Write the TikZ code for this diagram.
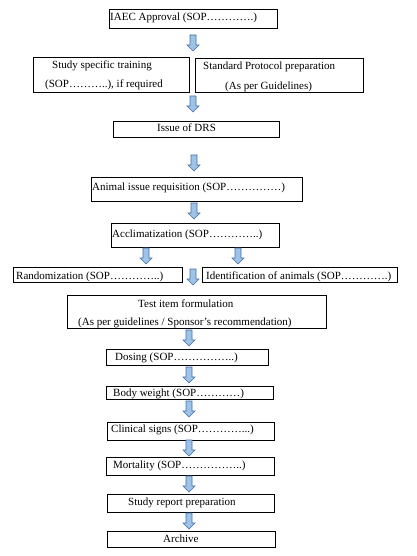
\documentclass[tikz,border=0pt]{standalone}
\usepackage{fontspec}
\setmainfont{Liberation Serif}
\usetikzlibrary{positioning}
\definecolor{arrowfill}{RGB}{157,195,230}
\definecolor{arrowline}{RGB}{70,110,165}

\begin{document}
\begin{tikzpicture}[x=1pt,y=-1pt,
    font=\fontsize{11}{13}\selectfont,
    box/.style={draw,line width=0.7pt,inner sep=0,anchor=north west},
    txt/.style={inner sep=0,anchor=base west},
    downarrow/.pic={
      \draw[arrowline,fill=arrowfill,line width=0.6pt,line join=miter]
        (-3,0) -- (-3,10) -- (-6,10) -- (0,16) -- (6,10) -- (3,10) -- (3,0) -- cycle;
    }]
    \useasboundingbox (0,0) rectangle (416,556);

    % boxes
    \node[box,minimum width=168,minimum height=19] (iaec) at (109,9) {};
    \node[box,minimum width=156,minimum height=35] (train) at (33,57) {};
    \node[box,minimum width=168,minimum height=34] (protocol) at (195,58) {};
    \node[box,minimum width=166,minimum height=16] (drs) at (113,121) {};
    \node[box,minimum width=211,minimum height=24] (animal) at (91,177) {};
    \node[box,minimum width=168,minimum height=24] (acclim) at (111,223) {};
    \node[box,minimum width=169,minimum height=15] (random) at (13,267) {};
    \node[box,minimum width=195,minimum height=15] (ident) at (202,267) {};
    \node[box,minimum width=259,minimum height=33] (testitem) at (67,295) {};
    \node[box,minimum width=162,minimum height=16] (dosing) at (106,349) {};
    \node[box,minimum width=167,minimum height=13] (bodywt) at (106,386) {};
    \node[box,minimum width=167,minimum height=18] (clinical) at (107,422) {};
    \node[box,minimum width=168,minimum height=18] (mortality) at (106,457) {};
    \node[box,minimum width=167,minimum height=18] (report) at (107,494) {};
    \node[box,minimum width=168,minimum height=16] (archive) at (107,531) {};

    % texts
    \node[txt] (iaectxt) at (110,21) {IAEC Approval (SOP………….)};
    \node[txt] (traintxt) at (52,68.5) {Study specific training};
    \node[txt] (traintxtb) at (45,87.5) {(SOP………..), if required};
    \node[txt] (protocoltxt) at (203,69.5) {Standard Protocol preparation};
    \node[txt] (protocoltxtb) at (225,89.5) {(As per Guidelines)};
    \node[txt] (drstxt) at (157,131.5) {Issue of DRS};
    \node[txt] (animaltxt) at (92,190) {Animal issue requisition (SOP……………)};
    \node[txt] (acclimtxt) at (112,237) {Acclimatization (SOP…………..)};
    \node[txt] (randomtxt) at (16,279) {Randomization (SOP…………..)};
    \node[txt] (identtxt) at (206,279) {Identification of animals (SOP………….)};
    \node[txt] (testitemtxt) at (138,307.5) {Test item formulation};
    \node[txt] (testitemtxtb) at (78,325.5) {(As per guidelines / Sponsor’s recommendation)};
    \node[txt] (dosingtxt) at (115,360.5) {Dosing (SOP……………..)};
    \node[txt] (bodywttxt) at (113,396.5) {Body weight (SOP…………)};
    \node[txt] (clinicaltxt) at (111,432) {Clinical signs (SOP…………...)};
    \node[txt] (mortalitytxt) at (113,468) {Mortality (SOP……………..)};
    \node[txt] (reporttxt) at (128,505.5) {Study report preparation};
    \node[txt] (archivetxt) at (163,542.5) {Archive};

    % block arrows
    \pic at (193,35) {downarrow};
    \pic at (193,96) {downarrow};
    \pic at (194,155) {downarrow};
    \pic at (194,203) {downarrow};
    \pic at (146,248) {downarrow};
    \pic at (238,248) {downarrow};
    \pic at (193,269) {downarrow};
    \pic at (189,330) {downarrow};
    \pic at (189,367) {downarrow};
    \pic at (189,401) {downarrow};
    \pic at (189,440) {downarrow};
    \pic at (189,476) {downarrow};
    \pic at (189,513) {downarrow};
\end{tikzpicture}
\end{document}
